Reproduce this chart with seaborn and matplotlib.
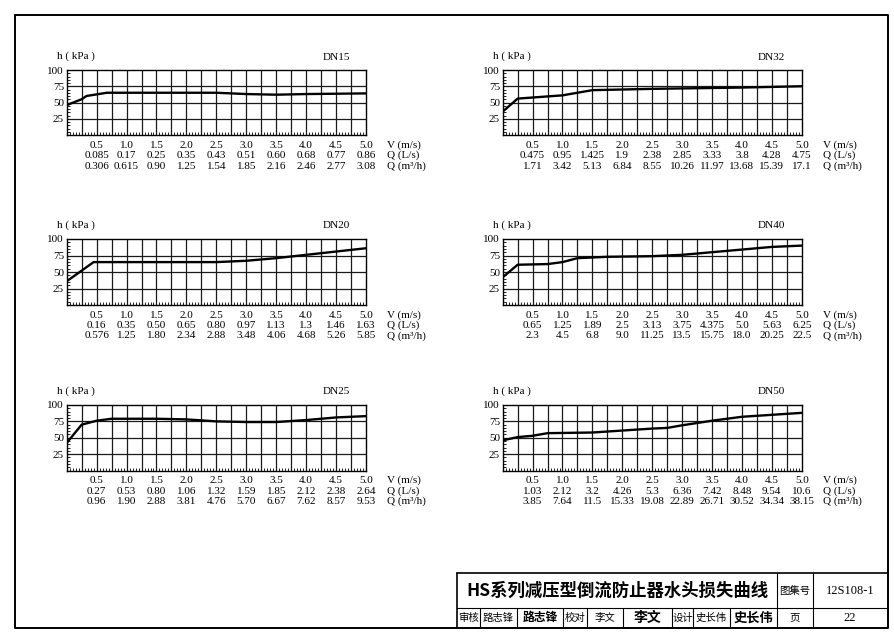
import numpy as np
import pandas as pd
import matplotlib
matplotlib.use("Agg")
import matplotlib.pyplot as plt
import seaborn as sns

# ---------------- data ----------------
V_TICKS = [0.5, 1.0, 1.5, 2.0, 2.5, 3.0, 3.5, 4.0, 4.5, 5.0]
V_LABELS = ["0.5", "1.0", "1.5", "2.0", "2.5", "3.0", "3.5", "4.0", "4.5", "5.0"]
Y_TICKS = [25, 50, 75, 100]

dn15_qls = ["0.085", "0.17", "0.25", "0.35", "0.43", "0.51", "0.60", "0.68", "0.77", "0.86"]
dn15_qm3 = ["0.306", "0.615", "0.90", "1.25", "1.54", "1.85", "2.16", "2.46", "2.77", "3.08"]
dn20_qls = ["0.16", "0.35", "0.50", "0.65", "0.80", "0.97", "1.13", "1.3", "1.46", "1.63"]
dn20_qm3 = ["0.576", "1.25", "1.80", "2.34", "2.88", "3.48", "4.06", "4.68", "5.26", "5.85"]
dn25_qls = ["0.27", "0.53", "0.80", "1.06", "1.32", "1.59", "1.85", "2.12", "2.38", "2.64"]
dn25_qm3 = ["0.96", "1.90", "2.88", "3.81", "4.76", "5.70", "6.67", "7.62", "8.57", "9.53"]
dn32_qls = ["0.475", "0.95", "1.425", "1.9", "2.38", "2.85", "3.33", "3.8", "4.28", "4.75"]
dn32_qm3 = ["1.71", "3.42", "5.13", "6.84", "8.55", "10.26", "11.97", "13.68", "15.39", "17.1"]
dn40_qls = ["0.65", "1.25", "1.89", "2.5", "3.13", "3.75", "4.375", "5.0", "5.63", "6.25"]
dn40_qm3 = ["2.3", "4.5", "6.8", "9.0", "11.25", "13.5", "15.75", "18.0", "20.25", "22.5"]
dn50_qls = ["1.03", "2.12", "3.2", "4.26", "5.3", "6.36", "7.42", "8.48", "9.54", "10.6"]
dn50_qm3 = ["3.85", "7.64", "11.5", "15.33", "19.08", "22.89", "26.71", "30.52", "34.34", "38.15"]

dn15_v = [0, 0.25, 0.33, 0.67, 2.5, 3.0, 3.5, 4.0, 5.0]
dn15_h = [46, 55, 60, 65, 65, 63, 62, 63, 64]
dn20_v = [0, 0.45, 1.5, 2.5, 3.0, 3.5, 4.0, 4.5, 5.0]
dn20_h = [36, 65, 65, 65, 67, 71, 76, 81, 86]
dn25_v = [0, 0.25, 0.5, 0.75, 1.5, 2.0, 2.5, 3.0, 3.5, 4.0, 4.5, 5.0]
dn25_h = [42, 70, 76, 79, 79, 78, 75, 74, 74, 77, 81, 83]
dn32_v = [0, 0.25, 1.0, 1.5, 2.5, 4.0, 5.0]
dn32_h = [36, 56, 61, 69, 71, 73, 75]
dn40_v = [0, 0.25, 0.75, 1.0, 1.25, 1.75, 2.5, 3.0, 3.5, 4.0, 4.5, 5.0]
dn40_h = [42, 61, 62, 65, 71, 73, 74, 76, 80, 84, 88, 90]
dn50_v = [0, 0.25, 0.5, 0.75, 1.5, 2.0, 2.5, 2.75, 3.0, 3.5, 4.0, 4.5, 5.0]
dn50_h = [46, 51, 53, 57, 58, 61, 64, 65, 69, 76, 82, 85, 88]

ROW_NAMES = ["V (m/s)", "Q (L/s)", "Q (m³/h)"]

# ---------------- style ----------------
sns.set_theme(style="white")
plt.rcParams["font.family"] = ["Liberation Serif", "Noto Sans CJK SC", "DejaVu Sans"]
plt.rcParams["text.color"] = "black"
plt.rcParams["axes.edgecolor"] = "black"
plt.rcParams["xtick.color"] = "black"
plt.rcParams["ytick.color"] = "black"

W, H = 895, 638
fig = plt.figure(figsize=(W / 100, H / 100), dpi=100)
fig.patch.set_facecolor("white")

FS = 8


def add_ax(x0, y0, x1, y1):
    return fig.add_axes([x0 / W, 1 - y1 / H, (x1 - x0) / W, (y1 - y0) / H])


def panel(ax, name, v, h, qls, qm3):
    hpx = ax.get_position().height * H
    wpx = ax.get_position().width * W
    df = pd.DataFrame({"V": v, "h": h})
    for gx in np.arange(0.25, 5.0, 0.25):
        ax.axvline(gx, color="#1a1a1a", lw=0.9, zorder=1)
    for gy in [25, 50, 75]:
        ax.axhline(gy, color="#1a1a1a", lw=0.9, zorder=1)
    sns.lineplot(data=df, x="V", y="h", ax=ax, color="black", lw=1.7, zorder=3)
    ax.set_xlim(0, 5)
    ax.set_ylim(0, 100)
    ax.set_xlabel("")
    ax.set_ylabel("")
    ax.set_xticks(V_TICKS)
    ax.set_xticklabels([])
    ax.set_xticks(np.arange(0, 5.0001, 0.05), minor=True)
    ax.set_yticks(Y_TICKS)
    ax.set_yticklabels([str(t) for t in Y_TICKS])
    ax.set_yticks(np.arange(0, 100, 5), minor=True)
    ax.tick_params(axis="x", which="major", length=0)
    ax.tick_params(axis="x", which="minor", direction="in", length=2.2, width=0.6, bottom=True)
    ax.tick_params(axis="y", which="major", length=0, pad=2, labelsize=FS)
    ax.tick_params(axis="y", which="minor", direction="in", length=2, width=0.6, left=True)
    for s in ax.spines.values():
        s.set_linewidth(1.0)
        s.set_color("black")
    tr = ax.get_xaxis_transform()
    rows = [V_LABELS, qls, qm3]
    for r, labels in enumerate(rows):
        yy = -(10 + 10.5 * r) / hpx
        for xv, lab in zip(V_TICKS, labels):
            ax.text(xv, yy, lab, transform=tr, ha="center", va="center", fontsize=FS)
        ax.text(1 + 21 / wpx, yy, ROW_NAMES[r], transform=ax.transAxes,
                ha="left", va="center", fontsize=FS)
    ax.text(-10 / wpx, 1 + 14 / hpx, "h ( kPa )", transform=ax.transAxes,
            ha="left", va="center", fontsize=FS)
    ax.text(0.90, 1 + 13 / hpx, name, transform=ax.transAxes,
            ha="center", va="center", fontsize=FS)


panels = [
    ((66.7, 70, 366, 135), "DN15", dn15_v, dn15_h, dn15_qls, dn15_qm3),
    ((66.7, 239, 366, 305), "DN20", dn20_v, dn20_h, dn20_qls, dn20_qm3),
    ((66.7, 405, 366, 470.5), "DN25", dn25_v, dn25_h, dn25_qls, dn25_qm3),
    ((502.7, 70, 801.7, 135), "DN32", dn32_v, dn32_h, dn32_qls, dn32_qm3),
    ((502.7, 239, 801.7, 305), "DN40", dn40_v, dn40_h, dn40_qls, dn40_qm3),
    ((502.7, 405, 801.7, 470.5), "DN50", dn50_v, dn50_h, dn50_qls, dn50_qm3),
]
for box, name, v, h, qls, qm3 in panels:
    ax = add_ax(*box)
    panel(ax, name, v, h, qls, qm3)

# ---------------- page frame and title block ----------------
bg = fig.add_axes([0, 0, 1, 1], zorder=-5)
bg.set_xlim(0, W)
bg.set_ylim(H, 0)
bg.axis("off")

# outer frame
bg.plot([15, 888, 888, 15, 15], [15, 15, 628, 628, 15], color="black", lw=1.4)

# title block
tb_l, tb_r, tb_t, tb_m, tb_b = 457, 888, 573, 608, 628
bg.plot([tb_l, tb_r], [tb_t, tb_t], color="black", lw=1.2)
bg.plot([tb_l, tb_l], [tb_t, tb_b], color="black", lw=1.2)
bg.plot([tb_l, tb_r], [tb_m, tb_m], color="black", lw=0.8)
for xx in [777, 813]:
    bg.plot([xx, xx], [tb_t, tb_b], color="black", lw=0.8)
for xx in [480, 517, 563, 587, 623, 672, 693, 730]:
    bg.plot([xx, xx], [tb_m, tb_b], color="black", lw=0.8)

cjk = ["Noto Sans CJK SC", "DejaVu Sans"]
bg.text(617, 590.5, "HS系列减压型倒流防止器水头损失曲线", ha="center", va="center",
        fontsize=12.5, fontweight="bold", family=cjk)
bg.text(795, 590.5, "图集号", ha="center", va="center", fontsize=7.5, family=cjk)
bg.text(850, 590.5, "12S108-1", ha="center", va="center", fontsize=9)
bg.text(795, 618, "页", ha="center", va="center", fontsize=7.5, family=cjk)
bg.text(850, 618, "22", ha="center", va="center", fontsize=9)

sign_cells = [
    (468.5, "审核", "normal", 7.5),
    (498.5, "路志锋", "normal", 7.5),
    (540, "路志锋", "heavy", 8.5),
    (575, "校对", "normal", 7.5),
    (605, "李文", "normal", 7.5),
    (647.5, "李文", "heavy", 10),
    (682.5, "设计", "normal", 7.5),
    (711.5, "史长伟", "normal", 7.5),
    (753.5, "史长伟", "heavy", 9.5),
]
for xx, txt, wt, fs in sign_cells:
    bg.text(xx, 618, txt, ha="center", va="center", fontsize=fs,
            fontweight=wt, family=cjk)

fig.savefig("out.png", dpi=100, facecolor="white")
